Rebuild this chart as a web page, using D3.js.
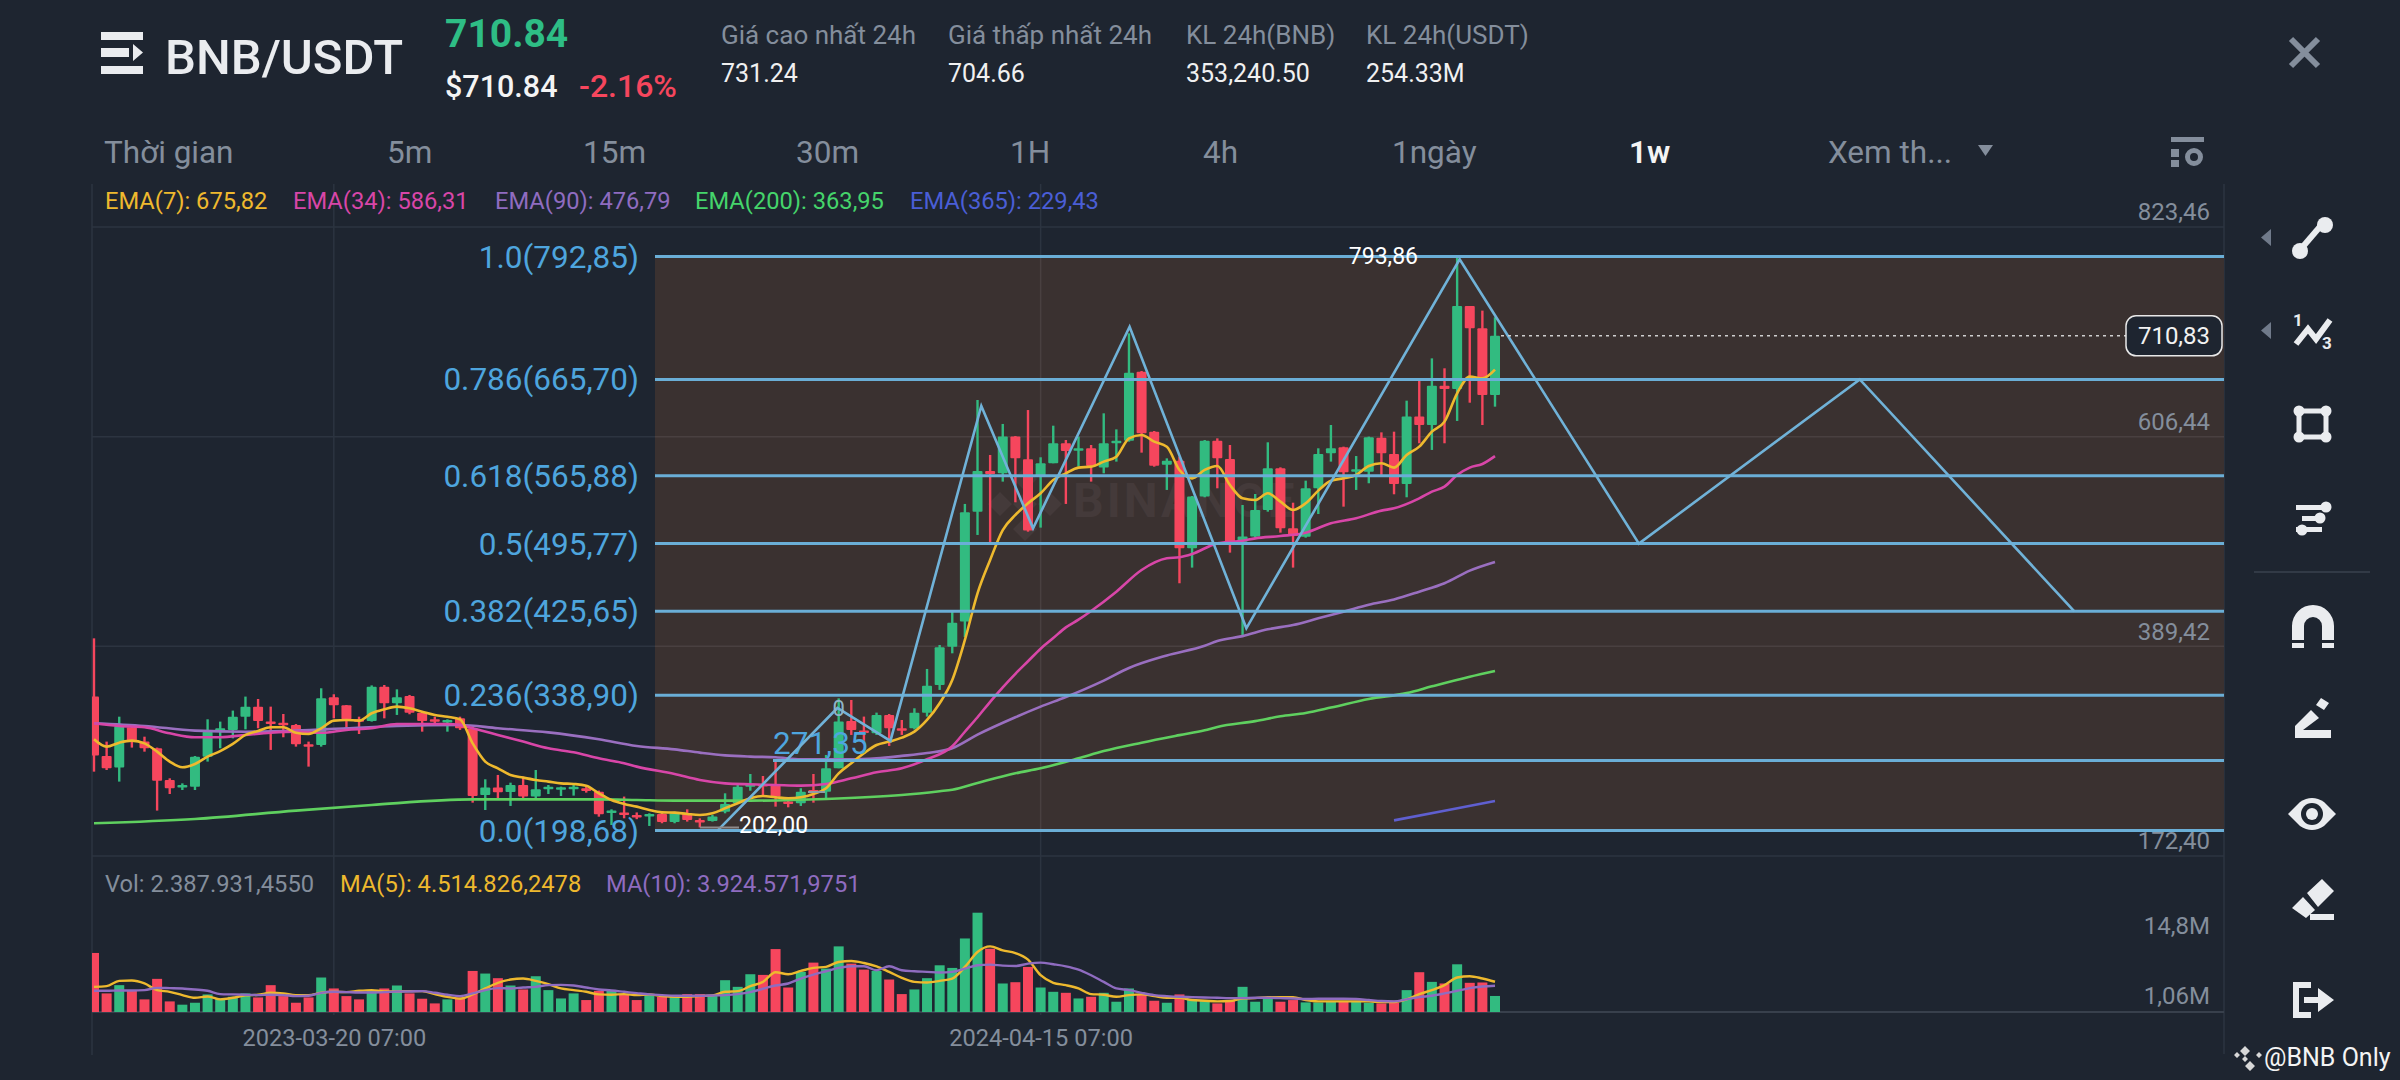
<!DOCTYPE html>
<html lang="vi">
<head>
<meta charset="utf-8">
<title>BNB/USDT</title>
<script src="https://cdn.jsdelivr.net/npm/d3@7/dist/d3.min.js"></script>
<style>
  html, body { margin: 0; padding: 0; background: #1e2530; overflow: hidden; }
  svg { display: block; font-family: Roboto, "Noto Sans", sans-serif; }
  text { white-space: pre; }
  .axis path, .axis line { display: none; }
</style>
</head>
<body>
<svg id="chart" width="2400" height="1080"></svg>
<script>
// Weekly candles, oldest first
const opens = [337.4,275.9,263.9,305.6,290.8,283.9,251.1,243.2,244.2,275.2,302.9,302.9,316.6,327,311.5,310.4,308,288,287.3,336.7,328.4,313.9,312.2,347.7,330.5,338,320.8,313.9,311.1,314.9,304.6,235.6,243.2,238.7,245.9,233.9,242.5,241.8,242.8,242.5,239,217.6,217.3,214.9,213.2,215.9,207.6,216.6,209.7,208.7,218.3,227,244.2,247,247,228.7,227,240.8,239,263.2,312.2,302.2,299.4,318.4,304.6,304.6,320.8,349.4,389.1,415,528.8,570.9,568.5,606.5,583,566.1,578.9,599.6,592,594.4,574.4,600.2,602.3,673.7,611.6,577.5,581.6,490.9,544.4,602.3,583.3,497.8,503,530.6,573.7,511.6,502.9,553,589.2,595.4,570.2,570.2,605.4,588.5,557.5,627.2,618.5,659.2,655.8,741.7,718.6,649.6];
const highs = [397.7,290.8,316.6,308,295.9,284.6,252.8,247.6,275.9,313.9,311.5,322.9,337.4,334.9,327,319.4,309,290.8,346,339.8,328.7,316.6,349,349.4,344.9,339.1,321.8,316.6,313.9,316.6,308,251.8,256.3,248.3,254.6,261.4,245.9,244.2,245.9,245.9,240.1,220.7,233.9,217.5,216.6,218.3,218.3,220.7,211.4,214.9,237.3,245.9,257.3,255.2,271.1,231.1,242.5,257.3,277,335.6,333.9,316.7,320.8,319.4,313.2,325.3,366,390.8,425.3,536.8,644.4,587.5,619.6,607.1,634,585.1,617.8,603,606.5,597.8,630.6,614,713.4,674.4,612.3,584,585.7,545,603,604.7,597.8,535.7,547.1,600.6,574.7,538.1,560.9,594.4,618.5,596.1,586.4,606.5,610.9,611.6,643.7,665.8,687.5,677.2,793.86,741.7,736.9,730];
const lows = [259.7,261.4,249.4,284.6,280.4,219.4,236.6,240.7,240.7,270.1,283.9,294.2,303.5,304.6,282.2,295.3,285.6,264.9,285.6,314.9,305.6,298.7,311.5,314.9,318.4,319.1,301.1,309.8,301.1,302.9,227.6,220,232.1,224.2,232.1,232.1,236.6,234.5,234.9,238,213.1,204.5,211.4,210.5,203.5,206.3,206.3,208,202,208,216.6,226.3,240,233.9,223.5,222.8,224.2,227.6,232.1,263.2,297.7,289,297.7,286.3,297.7,303.5,316.7,344.3,382.2,399,504.7,496.7,559.9,538.5,508.1,512.3,578.9,536.8,575.4,559.9,568.5,580.6,601.3,589.9,575.4,551.3,454.7,470.9,543.7,553,486.4,401.2,502.3,528.8,507.1,470.9,501.9,526.4,580.6,534,551.3,558.2,566.8,546.8,543.7,599.6,592.7,599.6,622.7,641.6,618.5,637.5];
const closes = [276.3,263.2,307,290.8,283.9,250.4,242.5,245.9,275.2,301.1,304.6,316.6,327,312.2,309,308,288,285.9,335.6,328.4,313.9,311.8,347.7,330.5,336.7,320.8,312.2,312.2,313.2,304.6,234.5,243.2,238.3,245.9,233.9,241.4,244.2,243.5,244.2,239.7,215.6,219.4,214.9,212.5,215.9,207.6,216.6,209.7,208,213.2,226.3,244.2,247,245.6,233.9,227,239,237.3,263.2,311.5,302.9,300.1,318.4,304.6,302.2,320.8,348.7,388.4,413.9,528.1,570.9,567.8,606.5,584,509.2,578.9,599.6,591.6,594.4,576.1,599.6,602.3,672.7,609.9,576.4,581.6,490.9,544.4,602.3,584,496.7,503,530.6,573.7,511.6,503.6,553,588.5,594.4,569.5,572.6,605.8,589.2,557.5,627.2,618.5,659.2,655.8,741.7,718.6,649.6,710.83];

// Traded volume per week, in millions of BNB
const volumes = [8.8,2.77,4,3.16,1.88,4.94,1.58,1.09,1.38,2.62,2.02,2.27,2.77,2.17,4,2.37,1.38,2.17,5.14,3.51,2.37,1.88,3.26,3.51,3.95,2.77,1.98,1.28,1.88,2.17,6.12,5.73,5.04,3.95,3.36,5.33,3.26,2.02,2.77,1.78,3.16,3.16,2.67,1.78,2.67,2.27,2.52,2.67,2.67,2.52,4.74,3.75,5.63,5.53,9.38,3.65,5.98,7.36,6.47,9.78,7.21,6.32,6.12,4.84,2.67,3.36,5.04,6.96,6.57,10.96,14.8,9.43,4.25,4.44,6.72,3.65,3.01,2.86,2.02,2.27,2.86,1.53,3.51,2.62,1.68,1.38,2.62,1.88,1.68,1.28,1.68,3.75,1.53,2.02,1.53,1.78,1.43,1.43,1.53,1.53,1.53,1.38,1.28,1.38,3.26,5.93,4.49,4.25,7.11,4.35,4.4,2.39];
const volMa5 = [3.75,3.85,4.64,4.69,4.25,3.26,3.01,2.52,2.12,2.32,1.88,2.12,2.47,2.57,2.86,2.77,2.52,2.52,2.86,3.01,2.96,3.16,3.26,3.06,3.06,3.11,3.11,2.67,2.27,1.98,2.62,3.51,4.35,4.84,4.99,4.64,4.15,3.51,3.26,3.01,2.62,2.57,2.67,2.52,2.62,2.37,2.27,2.27,2.37,2.47,3.01,3.11,3.85,4.49,5.93,5.63,6.12,6.57,6.72,7.46,7.6,7.31,6.81,5.98,5.09,4.49,4.4,4.64,4.99,6.72,8.94,9.78,9.19,8.79,7.8,5.48,4.35,4,3.51,2.67,2.57,2.27,2.52,2.62,2.37,2.12,2.12,1.78,1.68,1.58,1.63,2.02,2.07,2.22,2.22,2.22,1.78,1.58,1.58,1.58,1.58,1.58,1.48,1.48,1.88,2.67,3.26,4,5.14,5.33,4.99,4.51];
const volMa10 = [3.16,3.16,3.21,3.21,3.26,3.6,3.56,3.51,3.36,3.16,2.67,2.62,2.57,2.52,2.57,2.52,2.37,2.42,2.86,3.01,2.96,2.91,2.91,2.96,3.06,3.06,3.11,2.86,2.57,2.37,2.77,3.26,3.56,3.51,3.65,3.75,4,4.05,3.95,3.65,3.36,3.21,3.01,2.81,2.62,2.52,2.42,2.42,2.42,2.47,2.52,2.67,2.96,3.46,3.95,4.25,4.99,5.58,6.07,6.57,6.81,6.81,6.22,6.81,6.22,6.07,5.98,5.88,5.98,6.47,6.96,7.06,6.91,6.86,7.21,7.36,7.11,6.81,6.32,5.48,4.49,3.51,3.26,2.86,2.52,2.37,2.27,2.22,2.17,2.12,2.07,2.07,2.12,2.12,2.07,2.02,1.93,1.98,1.98,1.98,1.93,1.78,1.63,1.58,1.88,2.22,2.42,2.77,3.16,3.56,3.8,3.92];

// Exponential averages of price
const ema7 = [293.2,285.6,289.7,291.8,289,280.4,270.1,264.2,267.7,275.2,281,288.4,297.7,301.8,305.6,305.6,300,298.7,304.6,312.5,313.2,312.5,320.1,324.2,327,325.3,321.8,318.4,316.6,313.9,289,270.1,263.2,256.3,253.5,251.1,249.4,247.6,247,245.2,237.3,230.4,226.3,223.5,220,217.6,217.3,215.9,214.9,216.6,221.8,227,232.1,234.5,233.2,232.1,233.2,236.6,242.5,258,268.4,278.7,287.3,290.8,294.9,301.1,313.2,330.5,354.6,396,444.3,478.8,509.8,525.4,537.5,547.8,561.6,568.5,574.4,575.4,580.6,585.7,604.7,608.2,601.3,596.1,572,563.3,572,576.1,556.4,542.6,540.9,547.8,539.2,530.6,537.5,550.6,560.9,563.3,566.8,576.1,578.9,574.4,587.5,596.1,611.6,622,651.3,668.6,666.8,675.82];
const ema34Idx = [0,2,4,6,8,10,12,14,16,18,20,22,24,26,28,29,30,32,34,36,38,40,42,43,46,48,50,52,54,56,58,60,62,64,66,68,69,70,71,72,73,74,75,76,77,78,79,81,83,85,86,87,89,91,92,94,96,98,100,102,103,105,106,107,108,109,110,111];
const ema34 = [309.8,307,305.6,299.4,295.3,295.3,297.7,300,301.1,300,302.9,304.6,309,309,309,308,304.6,297.7,290.8,283.9,279.7,273.5,268.4,264.9,257.3,251.1,247.6,246.6,245.9,245.2,247,252.8,259,263.2,272.5,286,301,316,332,347,361,374,387,398,409,417,426,446,468.4,480.5,481.6,485,496,498.8,501.2,503.6,507,516.8,522,529.9,532.3,542.6,549.5,554.7,566.8,574.4,578.2,586.31];
const ema90Idx = [0,4,8,12,16,20,24,29,32,36,40,43,46,48,50,52,54,56,58,60,62,64,66,68,70,73,75,77,80,82,85,88,89,91,93,95,97,99,101,103,105,107,109,111];
const ema90 = [309.8,307,302.2,301,302.2,304.6,307,308,304.6,300.4,293.2,286.3,282.8,279.4,276.6,275.3,274.6,272.5,272.5,272.5,273.5,276,279,284,298,316,327,337,354,367,380,390,395,400,407,411.5,418.4,425.3,432.5,438,446,454.7,467.8,476.79];
const ema200Idx = [0,8,16,22,30,40,43,46,52,58,64,67,68,70,73,75,78,80,83,86,88,89,92,94,96,98,101,104,106,109,111];
const ema200 = [206.3,210.7,219.4,225.2,231,231,230.4,229.7,229.7,231.4,235.6,239.5,241,248,258,263.2,273.5,281,289.7,297.5,302.5,306,312,317,320.5,326,335,341,348,358,363.95];
const ema365Idx = [103,107,111];
const ema365 = [209.3,219.2,229.43];

// Fibonacci retracement levels and the projected wave path
const fibRatios = ["1.0","0.786","0.618","0.5","0.382","0.236","0.0"];
const fibPrices = [792.85,665.70,565.88,495.77,425.65,338.90,198.68];
const wavePrice = 271.35;
const waveIdx = [49.4,58.9,63.1,70.3,74.4,82.05,91.3,108.2,122.4,139.9,156.9];
const waveVal = [198.68,325.6,291.5,638.2,511.6,720.3,408.1,790,495.77,665.7,425.65];

// Axis ticks
const priceTicks = [823.46,606.44,389.42,172.40];
const volumeTickLabels = ["14,8M","1,06M"];
const dateTickIdx = [19,75];
const dateTickLabels = ["2023-03-20 07:00","2024-04-15 07:00"];
const lastPrice = 710.83;

// Header and legend strings
const intervals = ["Thời gian","5m","15m","30m","1H","4h","1ngày","1w","Xem th..."];
const stats = [["Giá cao nhất 24h","731.24"],["Giá thấp nhất 24h","704.66"],["KL 24h(BNB)","353,240.50"],["KL 24h(USDT)","254.33M"]];
const priceLegend = [["EMA(7): 675,82","#eeb92e"],["EMA(34): 586,31","#d846a8"],["EMA(90): 476,79","#8f6cc0"],["EMA(200): 363,95","#45d46b"],["EMA(365): 229,43","#4a5ed6"]];
const volumeLegend = [["Vol: 2.387.931,4550","#848e9c"],["MA(5): 4.514.826,2478","#eeb92e"],["MA(10): 3.924.571,9751","#8f6cc0"]];

const UP = "#32bb80", DOWN = "#f6465d", BG = "#1e2530", FIB = "#6aaed6", GRID = "#2c3440";
const num = v => v.toFixed(2).replace(".", ",");

const svg = d3.select("#chart");
svg.append("rect").attr("width", 2400).attr("height", 1080).attr("fill", BG);

const x = d3.scaleLinear().domain([0, 111]).range([94, 1495]);
const y = d3.scaleLinear().domain([172.40, 823.46]).range([856, 227]);
const yVol = d3.scaleLinear().domain([0, 14.8]).range([1012, 912.7]);

// Panel frame and grid
const frame = svg.append("g");
frame.selectAll("line.h").data(priceTicks).join("line")
  .attr("x1", 92).attr("x2", 2224).attr("y1", d => y(d)).attr("y2", d => y(d))
  .attr("stroke", GRID).attr("stroke-width", 1.5);
frame.selectAll("line.v").data(dateTickIdx).join("line")
  .attr("x1", d => x(d)).attr("x2", d => x(d)).attr("y1", 184).attr("y2", 1015)
  .attr("stroke", GRID).attr("stroke-width", 1.5);
frame.append("line").attr("x1", 92).attr("x2", 92).attr("y1", 184).attr("y2", 1055).attr("stroke", GRID).attr("stroke-width", 1.5);
frame.append("line").attr("x1", 2224).attr("x2", 2224).attr("y1", 184).attr("y2", 1054).attr("stroke", GRID).attr("stroke-width", 1.5);
frame.append("line").attr("x1", 92).attr("x2", 2224).attr("y1", 1012).attr("y2", 1012).attr("stroke", "#38404c").attr("stroke-width", 2);

// Shaded retracement zone
svg.append("rect")
  .attr("x", 655).attr("width", 2224 - 655)
  .attr("y", y(fibPrices[0])).attr("height", y(fibPrices[6]) - y(fibPrices[0]))
  .attr("fill", "#3a3130");
const zoneGrid = svg.append("g");
zoneGrid.selectAll("line.h").data(priceTicks.slice(1, 3)).join("line")
  .attr("x1", 655).attr("x2", 2224).attr("y1", d => y(d)).attr("y2", d => y(d))
  .attr("stroke", "#494040").attr("stroke-width", 1.5);
zoneGrid.append("line").attr("x1", x(75)).attr("x2", x(75)).attr("y1", y(fibPrices[0])).attr("y2", y(fibPrices[6]))
  .attr("stroke", "#494040").attr("stroke-width", 1.5);

// Exchange watermark
const mark = svg.append("g").attr("fill", "#443a3a");
mark.append("text").attr("x", 1073).attr("y", 517).attr("font-size", 48).attr("font-weight", 700)
  .attr("letter-spacing", 3).text("BINANCE");
mark.append("path").attr("d", "M1025 467l12 12-12 12-12-12zM1000 492l12 12-12 12-12-12zM1050 492l12 12-12 12-12-12zM1025 517l12 12-12 12-12-12zM1025 492l12 12-12 12-12-12z");

svg.append("clipPath").attr("id", "plot").append("rect")
  .attr("x", 92).attr("y", 184).attr("width", 2132).attr("height", 872);
const plot = svg.append("g").attr("clip-path", "url(#plot)");

// Candles
const weeks = d3.range(opens.length);
const tone = i => closes[i] >= opens[i] ? UP : DOWN;
const candle = plot.append("g").selectAll("g").data(weeks).join("g");
candle.append("line")
  .attr("x1", i => x(i)).attr("x2", i => x(i))
  .attr("y1", i => y(highs[i])).attr("y2", i => y(lows[i]))
  .attr("stroke", tone).attr("stroke-width", 2.4);
candle.append("rect")
  .attr("x", i => x(i) - 5).attr("width", 10)
  .attr("y", i => y(Math.max(opens[i], closes[i])))
  .attr("height", i => Math.max(2.5, Math.abs(y(opens[i]) - y(closes[i]))))
  .attr("rx", 1).attr("fill", tone);

// Moving averages over the candles
const priceLine = d3.line().x(d => x(d[0])).y(d => y(d[1])).curve(d3.curveMonotoneX);
const pair = (idx, vals) => vals.map((v, k) => [idx[k], v]);
const emaSeries = [
  [pair(ema365Idx, ema365), "#5f5fd0"],
  [pair(ema200Idx, ema200), "#5fd05f"],
  [pair(ema90Idx, ema90), "#9a6fc0"],
  [pair(ema34Idx, ema34), "#d846a8"],
  [pair(weeks, ema7), "#eeb92e"]
];
plot.append("g").selectAll("path").data(emaSeries).join("path")
  .attr("d", d => priceLine(d[0])).attr("fill", "none")
  .attr("stroke", d => d[1]).attr("stroke-width", 2.6);

// Retracement lines and their labels
const fibs = svg.append("g");
fibs.selectAll("line").data(fibPrices).join("line")
  .attr("x1", 655).attr("x2", 2224).attr("y1", d => y(d)).attr("y2", d => y(d))
  .attr("stroke", FIB).attr("stroke-width", 3);
fibs.append("line").attr("x1", 773).attr("x2", 2224).attr("y1", y(wavePrice)).attr("y2", y(wavePrice))
  .attr("stroke", FIB).attr("stroke-width", 3);
fibs.selectAll("text.fib").data(fibPrices).join("text").attr("class", "fib")
  .attr("x", 639).attr("y", d => y(d)).attr("dy", "0.35em").attr("text-anchor", "end")
  .attr("font-size", 31.5).attr("fill", "#4ea5de")
  .text((d, i) => `${fibRatios[i]}(${num(d)})`);
fibs.append("text").attr("x", 773).attr("y", y(wavePrice) - 6)
  .attr("font-size", 31.5).attr("fill", "#4ea5de").text(num(wavePrice));

// Projected wave path
const waveLine = d3.line().x((d, i) => x(waveIdx[i])).y(d => y(d));
svg.append("path").attr("d", waveLine(waveVal)).attr("fill", "none")
  .attr("stroke", "#70b2d8").attr("stroke-width", 2.6).attr("stroke-linejoin", "miter");
svg.append("text").attr("x", x(59)).attr("y", y(325.6)).attr("dy", "0.35em").attr("text-anchor", "middle")
  .attr("font-size", 22).attr("fill", "#8fb4c8").text("0");
svg.append("line").attr("x1", 808).attr("x2", 825).attr("y1", 792).attr("y2", 792)
  .attr("stroke", "#8f9aa6").attr("stroke-width", 2);

// Extreme price labels
const extremes = svg.append("g").attr("fill", "#fff").attr("font-size", 23);
extremes.append("line").attr("x1", x(48)).attr("x2", 739).attr("y1", y(202)).attr("y2", y(202)).attr("stroke", "#8f8a8a").attr("stroke-width", 2);
extremes.append("text").attr("x", 739).attr("y", y(202)).attr("dy", "0.25em").text(num(d3.min(lows)));
extremes.append("text").attr("x", 1418).attr("y", y(793.86)).attr("text-anchor", "end").attr("dy", "0.35em")
  .text(num(d3.max(highs)));

// Last price marker
svg.append("line").attr("x1", x(111) + 6).attr("x2", 2126).attr("y1", y(lastPrice)).attr("y2", y(lastPrice))
  .attr("stroke", "#cfcfcf").attr("stroke-width", 1.5).attr("stroke-dasharray", "3 4");
svg.append("rect").attr("x", 2126).attr("y", y(lastPrice) - 20).attr("width", 96).attr("height", 40).attr("rx", 10)
  .attr("fill", BG).attr("stroke", "#e8e8e8").attr("stroke-width", 1.5);
svg.append("text").attr("x", 2174).attr("y", y(lastPrice)).attr("dy", "0.35em").attr("text-anchor", "middle")
  .attr("font-size", 24).attr("fill", "#f2f2f2").text(num(lastPrice));

// Price and date axes
svg.append("g").attr("class", "axis").attr("transform", "translate(2210,-15)")
  .call(d3.axisLeft(y).tickValues(priceTicks).tickSize(0).tickPadding(0).tickFormat(num))
  .call(g => g.selectAll("text").attr("font-family", "Roboto").attr("font-size", 24).attr("fill", "#848e9c").attr("text-anchor", "end"));
svg.append("g").attr("class", "axis").attr("transform", "translate(0,1023)")
  .call(d3.axisBottom(x).tickValues(dateTickIdx).tickSize(0).tickPadding(6).tickFormat((d, i) => dateTickLabels[i]))
  .call(g => g.selectAll("text").attr("font-family", "Roboto").attr("font-size", 23.6).attr("fill", "#848e9c"));

// Volume bars and averages
plot.append("g").selectAll("rect").data(volumes).join("rect")
  .attr("x", (d, i) => x(i) - 5).attr("width", 10)
  .attr("y", d => yVol(d)).attr("height", d => yVol(0) - yVol(d))
  .attr("fill", (d, i) => tone(i));
const volLine = d3.line().x((d, i) => x(i)).y(d => yVol(d)).curve(d3.curveMonotoneX);
[[volMa5, "#eeb92e"], [volMa10, "#8f6cc0"]].forEach(([series, colour]) => {
  plot.append("path").attr("d", volLine(series)).attr("fill", "none").attr("stroke", colour).attr("stroke-width", 2.4);
});
svg.append("g").selectAll("text").data(volumeTickLabels).join("text")
  .attr("x", 2210).attr("y", (d, i) => [926, 996][i]).attr("dy", "0.35em").attr("text-anchor", "end")
  .attr("font-size", 24).attr("fill", "#848e9c").text(d => d);

// Legends
const legendAt = (row, xs, yPos) => svg.append("g").selectAll("text").data(row).join("text")
  .attr("x", (d, i) => xs[i]).attr("y", yPos).attr("dy", "0.35em")
  .attr("font-size", 23.7).attr("fill", d => d[1]).text(d => d[0]);
legendAt(priceLegend, [105, 293, 495, 695, 910], 201);
legendAt(volumeLegend, [105, 340, 606], 884);

// Header
const header = svg.append("g");
header.append("text").attr("x", 165).attr("y", 74).attr("font-size", 49).attr("font-weight", 500).attr("fill", "#eaecef").text("BNB/USDT");
header.append("text").attr("x", 445).attr("y", 47).attr("font-size", 39).attr("font-weight", 700).attr("fill", "#2ebd85").text("710.84");
header.append("text").attr("x", 445).attr("y", 97).attr("font-size", 30.500).attr("font-weight", 500).attr("fill", "#f4f4f4").text("$710.84");
header.append("text").attr("x", 579).attr("y", 97).attr("font-size", 32).attr("font-weight", 500).attr("fill", "#f6465d").text("-2.16%");
header.selectAll("text.stat").data(stats).join("text").attr("class", "stat")
  .attr("x", (d, i) => [721, 948, 1186, 1366][i]).attr("y", 44).attr("font-size", 26).attr("fill", "#848e9c").text(d => d[0]);
header.selectAll("text.val").data(stats).join("text").attr("class", "val")
  .attr("x", (d, i) => [721, 948, 1186, 1366][i]).attr("y", 82).attr("font-size", 25).attr("fill", "#f0f0f0").text(d => d[1]);
header.selectAll("text.tab").data(intervals).join("text").attr("class", "tab")
  .attr("x", (d, i) => [104, 387, 583, 796, 1010, 1203, 1392, 1629, 1828][i]).attr("y", 163)
  .attr("font-size", 31.5).attr("font-weight", d => d === "1w" ? 600 : 400)
  .attr("fill", d => d === "1w" ? "#f4f4f4" : "#848e9c").text(d => d);

// Glyphs: header menu, close, interval settings
header.append("path").attr("fill", "#eaecef")
  .attr("d", "M101 32h42v8h-42zM101 48h28v9h-28zM101 66h42v8h-42zM133 44l10 8.500-10 8.500z");
header.append("path").attr("stroke", "#848e9c").attr("stroke-width", 6).attr("fill", "none")
  .attr("d", "M2291 39l27 27M2318 39l-27 27");
header.append("path").attr("fill", "#848e9c").attr("d", "M1978 145h15l-7.500 11z");
header.append("path").attr("fill", "#848e9c")
  .attr("d", "M2171 137h33v5h-33zM2171 149h8v8h-8zM2171 160h8v7h-8z");
header.append("circle").attr("cx", 2194).attr("cy", 157).attr("r", 6.500).attr("fill", "none").attr("stroke", "#848e9c").attr("stroke-width", 5);

// Side toolbar
const bar = svg.append("g").attr("fill", "#eaecef").attr("stroke", "none");
bar.append("line").attr("x1", 2254).attr("x2", 2370).attr("y1", 572).attr("y2", 572).attr("stroke", "#323a46").attr("stroke-width", 2);
bar.append("path").attr("fill", "#707a8a").attr("d", "M2271 229v17l-10-8.500zM2271 322v17l-10-8.500z");
bar.append("path").attr("d", "M2300 250l24-28").attr("stroke", "#eaecef").attr("stroke-width", 6);
bar.append("circle").attr("cx", 2300).attr("cy", 251).attr("r", 8);
bar.append("circle").attr("cx", 2325).attr("cy", 225).attr("r", 8);
bar.append("path").attr("d", "M2296 344l12-15 8 10 14-19").attr("fill", "none").attr("stroke", "#eaecef").attr("stroke-width", 6);
bar.append("text").attr("x", 2293).attr("y", 326).attr("font-size", 17).attr("font-weight", 700).text("1");
bar.append("text").attr("x", 2322).attr("y", 349).attr("font-size", 17).attr("font-weight", 700).text("3");
bar.append("rect").attr("x", 2299).attr("y", 411).attr("width", 27).attr("height", 26).attr("fill", "none").attr("stroke", "#eaecef").attr("stroke-width", 5);
[[2299, 411], [2326, 411], [2299, 437], [2326, 437]].forEach(p => bar.append("circle").attr("cx", p[0]).attr("cy", p[1]).attr("r", 5.500));
bar.append("path").attr("d", "M2296 505h30v5h-30zM2302 516h18v5h-18zM2296 527h26v5h-26z");
[[2326, 507], [2320, 518], [2302, 530]].forEach(p => bar.append("circle").attr("cx", p[0]).attr("cy", p[1]).attr("r", 5.500));
bar.append("path").attr("d", "M2292 640v-14a21 21 0 0 1 42 0v14h-12v-14a9 9 0 0 0-18 0v14zM2292 643h12v5h-12zM2322 643h12v5h-12z");
bar.append("path").attr("d", "M2295 738v-12l16-16 8 8-16 12h28v8zM2316 705l5-7 8 5-5 7z");
bar.append("path").attr("d", "M2288 814l12-12q12-8 24 0l12 12-12 12q-12 8-24 0z");
bar.append("circle").attr("cx", 2312).attr("cy", 814).attr("r", 11).attr("fill", BG);
bar.append("circle").attr("cx", 2312).attr("cy", 814).attr("r", 6);
bar.append("path").attr("d", "M2292 908l11-11 12 13-9 8zM2307 893l15-14 12 12-16 16zM2310 914h24v6h-24z");
bar.append("path").attr("d", "M2293 982h18v6h-12v24h12v6h-18zM2304 997h14v-9l16 12-16 12v-9h-14z");

// Attribution
const credit = svg.append("g");
credit.append("path").attr("fill", "#d8d8d8")
  .attr("d", "M2245 1046l5 5-5 5-5-5zM2245 1056l3 3-3 3-3-3zM2234 1055l3-3 3 3-3 3zM2256 1055l3-3 3 3-3 3zM2245 1066l5-5 5 5-5 5-5-5z");
credit.append("text").attr("x", 2264).attr("y", 1066).attr("font-size", 25).attr("fill", "#f4f4f4").text("@BNB Only");
</script>
</body>
</html>
